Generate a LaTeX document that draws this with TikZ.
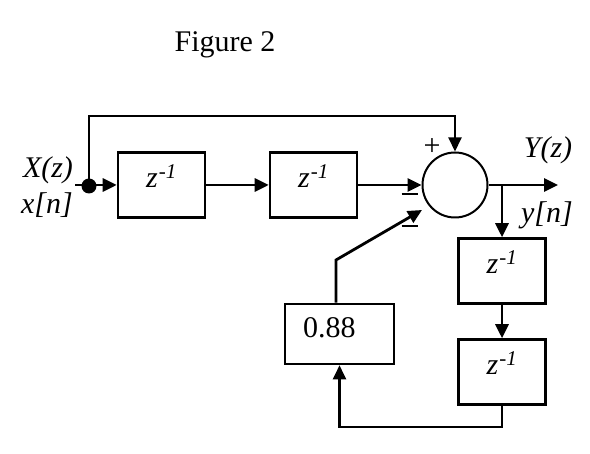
\documentclass[tikz,border=0pt]{standalone}
\usepackage{fontspec}
\setmainfont{Liberation Serif}
\usetikzlibrary{arrows.meta}
\newcommand{\zinv}{\textit{z}\textsuperscript{\kern1pt\textit{-1}}}

\begin{document}
\begin{tikzpicture}[x=1pt,y=-1pt,font=\fontsize{30}{33}\selectfont,
	flow/.style={->,draw=black,line width=2.8pt}]
	\useasboundingbox (0,0) rectangle (590,454);
	\node (title) at (225,45) {Figure 2};
	\node (Xz) at (48,170) {\textit{X(z)}};
	\node (xn) at (47,205) {\textit{x[n]}};
	\node (Yz) at (548,150) {\textit{Y(z)}};
	\node (yn) at (547,215) {\textit{y[n]}};
	\node (plus) at (432,147) {+};
	\node[inner sep=0pt] (minusa) at (409.5,194) {\rule{16pt}{2.2pt}};
	\node[inner sep=0pt] (minusb) at (409.5,226) {\rule{16pt}{2.2pt}};

	\node[circle,fill,inner sep=0pt,minimum size=15pt] (dot) at (89,186) {};
	\node[circle,draw,line width=2pt,minimum size=65pt,inner sep=0pt] (sum) at (455,185) {};

	\begin{scope}[every node/.style={draw,line width=2.6pt,inner sep=0pt,
	              minimum width=87pt,minimum height=65pt,
	              text height=21pt,text depth=15pt}]
		\node (d1) at (161.5,185) {\zinv};
		\node (d2) at (313.5,185) {\zinv};
		\node (d3) at (502,271) {\zinv};
		\node (d4) at (502,372) {\zinv};
	\end{scope}
	\node[draw,line width=2.6pt,inner ysep=0pt,inner xsep=18pt,text width=73pt,align=left,
	      minimum height=60pt,text height=20pt,text depth=12pt] (gain) at (339.5,334) {0.88};

	\coordinate (in) at (75,185);
	\coordinate (out) at (558,185);
	\coordinate (br) at (502,185);
	\coordinate (top) at (455,116);
	\coordinate (bend) at (336,260);
	\coordinate (fb) at (422,210);

	\begin{scope}[>={Triangle[length=14pt,width=13pt]}]
		\draw[flow] (in) -- (d1);
		\draw[flow] (d1) -- (d2);
		\draw[flow] (d2) -- (sum);
		\draw[flow] (sum) -- (out);
		\draw[flow] (br) -- (d3);
		\draw[flow] (d3) -- (d4);
		\draw[->,line width=2pt] (dot.center) |- (top) -- (sum);
		\draw[->,line width=2.2pt] (d4) -- ++(0,55) -| (gain);
		\draw[flow] ([xshift=-3.5pt]gain.north) -- (bend) -- (fb);
	\end{scope}
\end{tikzpicture}
\end{document}
